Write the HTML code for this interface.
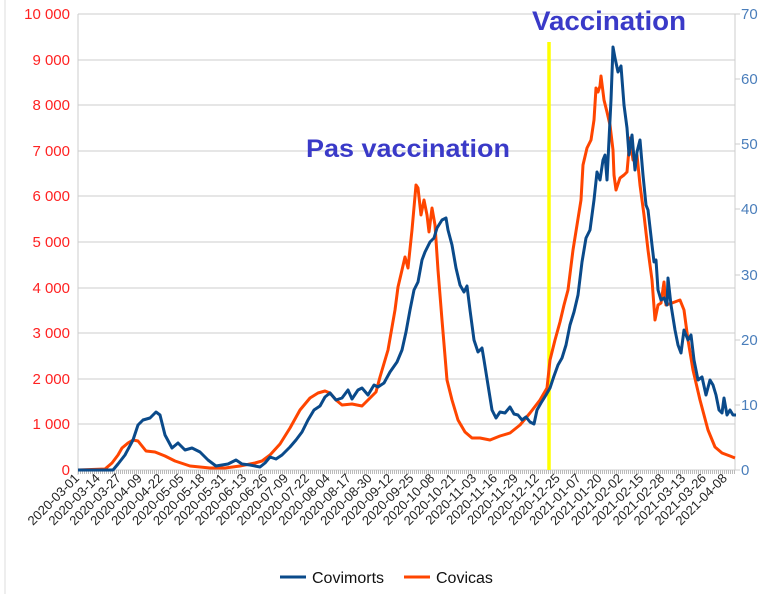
<!DOCTYPE html>
<html><head><meta charset="utf-8"><style>
body{margin:0;background:#fff;}
svg{display:block;font-family:"Liberation Sans",sans-serif;}
</style></head><body>
<svg width="768" height="594" viewBox="0 0 768 594">
<rect width="768" height="594" fill="#fff"/>
<line x1="5" y1="0" x2="5" y2="594" stroke="#ddd"/>
<g stroke="#ccc" stroke-width="1">
<line x1="78" y1="14" x2="735" y2="14"/><line x1="78" y1="60" x2="735" y2="60"/><line x1="78" y1="105" x2="735" y2="105"/><line x1="78" y1="151" x2="735" y2="151"/><line x1="78" y1="196" x2="735" y2="196"/><line x1="78" y1="242" x2="735" y2="242"/><line x1="78" y1="288" x2="735" y2="288"/><line x1="78" y1="333" x2="735" y2="333"/><line x1="78" y1="379" x2="735" y2="379"/><line x1="78" y1="424" x2="735" y2="424"/><line x1="78" y1="470" x2="735" y2="470"/>
<line x1="78" y1="14" x2="78" y2="475"/><line x1="735" y1="14" x2="735" y2="470"/>
<line x1="735" y1="14" x2="740" y2="14"/><line x1="735" y1="79" x2="740" y2="79"/><line x1="735" y1="144" x2="740" y2="144"/><line x1="735" y1="209" x2="740" y2="209"/><line x1="735" y1="275" x2="740" y2="275"/><line x1="735" y1="340" x2="740" y2="340"/><line x1="735" y1="405" x2="740" y2="405"/><line x1="735" y1="470" x2="740" y2="470"/>
</g>
<line x1="78" y1="472" x2="735" y2="472" stroke="#bbb" stroke-width="4" stroke-dasharray="1 1"/>
<g fill="#f22" font-size="15" text-anchor="end">
<text x="70" y="19">10 000</text><text x="70" y="65">9 000</text><text x="70" y="110">8 000</text><text x="70" y="156">7 000</text><text x="70" y="201">6 000</text><text x="70" y="247">5 000</text><text x="70" y="293">4 000</text><text x="70" y="338">3 000</text><text x="70" y="384">2 000</text><text x="70" y="429">1 000</text><text x="70" y="475">0</text>
</g>
<g fill="#4a7ebb" font-size="15">
<text x="741" y="19">70</text><text x="741" y="84">60</text><text x="741" y="149">50</text><text x="741" y="214">40</text><text x="741" y="280">30</text><text x="741" y="345">20</text><text x="741" y="410">10</text><text x="741" y="475">0</text>
</g>
<g fill="#222" font-size="13" text-anchor="end" id="xl"></g>
<line x1="549" y1="42" x2="549" y2="470" stroke="#ff0" stroke-width="3.5"/>
<polyline fill="none" stroke="#ff4500" stroke-width="3" stroke-linejoin="round" points="78,470 105,469 112,463 118,455 122,448 128,443 133,440 138,441 142,446 146,451 155,452 165,456 175,461 190,466 210,468 225,468 240,466 255,463 262,461 270,455 280,444 290,428 300,410 310,398 318,393 325,391 330,393 336,400 342,405 352,404 362,406 370,398 376,392 380,377 388,350 395,310 398,287 402,270 405,257 408,268 412,230 416,185 418,188 421,215 424,200 427,215 429,232 432,208 435,225 438,270 442,320 447,380 452,400 458,420 465,432 472,438 480,438 490,440 500,436 510,433 520,425 530,413 540,400 547,388 550,360 555,340 560,322 564,305 568,290 573,250 577,225 581,200 583,165 587,148 591,140 594,120 596,88 598,92 600,86 601,76 604,100 607,112 610,125 613,150 614,175 616,190 620,178 624,175 627,172 630,138 633,160 637,155 640,185 644,215 648,250 652,280 655,320 658,305 661,303 664,282 666,305 672,303 680,300 684,310 688,340 693,370 700,400 708,430 715,447 722,453 730,456 735,458"/>
<polyline fill="none" stroke="#0a4a8a" stroke-width="3" stroke-linejoin="round" points="78,470 113,470 118,464 125,455 133,440 138,425 143,420 150,418 156,412 160,415 165,435 172,448 178,443 185,450 192,448 200,452 208,460 216,466 222,465 228,464 236,460 242,464 250,465 260,467 265,463 270,457 276,459 282,455 290,447 296,440 302,432 308,420 314,410 320,406 325,397 330,393 336,400 342,398 348,390 352,399 358,390 362,388 368,395 374,385 378,387 384,383 390,372 397,362 402,350 406,332 410,310 414,290 418,282 422,260 425,252 430,242 434,238 437,228 442,220 446,218 448,230 452,245 456,268 460,285 464,292 467,286 470,310 474,340 478,352 482,348 484,360 488,385 492,410 496,418 500,412 505,413 510,407 514,414 518,415 522,420 526,417 530,422 534,424 537,410 541,403 546,395 550,388 554,376 558,365 562,358 566,345 570,325 574,312 578,295 582,262 586,238 590,230 594,200 597,172 600,180 603,160 605,155 607,180 609,140 611,100 613,47 615,58 618,72 621,66 624,105 627,128 629,155 632,135 635,170 637,152 640,140 643,175 646,205 648,210 652,245 654,262 656,260 658,290 661,300 664,298 667,305 668,278 671,305 675,330 678,345 681,353 684,330 688,340 691,335 694,360 698,380 702,377 706,395 710,380 713,385 716,395 719,410 722,413 724,398 727,415 730,410 733,415 736,415"/>
<text x="532" y="30" font-size="27" font-weight="bold" fill="#3a3ac8" textLength="154" lengthAdjust="spacingAndGlyphs">Vaccination</text>
<text x="306" y="157" font-size="25" font-weight="bold" fill="#3a3ac8" textLength="204" lengthAdjust="spacingAndGlyphs">Pas vaccination</text>
<line x1="280" y1="577" x2="306" y2="577" stroke="#0a4a8a" stroke-width="3"/>
<text x="312" y="583" font-size="16" fill="#111">Covimorts</text>
<line x1="404" y1="577" x2="430" y2="577" stroke="#ff4500" stroke-width="3"/>
<text x="436" y="583" font-size="16" fill="#111">Covicas</text>
</svg>
<script>
var g=document.getElementById('xl');
var d=new Date(Date.UTC(2020,2,1));
for(var i=0;i<32;i++){
 var s=d.toISOString().slice(0,10);
 var x=80+i*20.9, y=479;
 var t=document.createElementNS('http://www.w3.org/2000/svg','text');
 t.setAttribute('x',x);t.setAttribute('y',y);
 t.setAttribute('transform','rotate(-45 '+x+' '+y+')');
 t.textContent=s;g.appendChild(t);
 d=new Date(d.getTime()+13*86400000);
}
</script>
</body></html>
